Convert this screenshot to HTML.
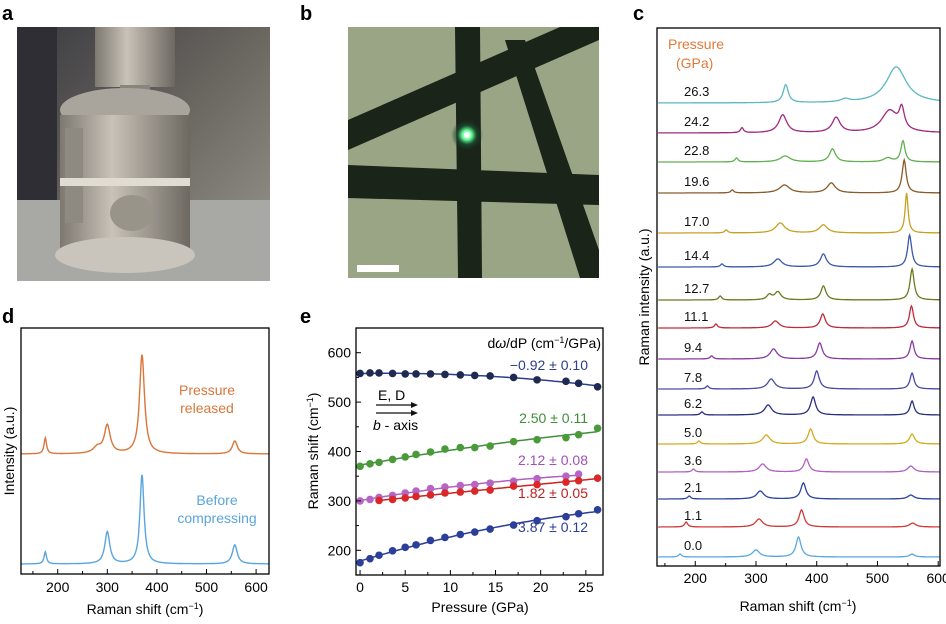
<!DOCTYPE html>
<html><head><meta charset="utf-8">
<style>
html,body{margin:0;padding:0;background:#fff;}
body{width:946px;height:619px;overflow:hidden;font-family:"Liberation Sans",sans-serif;}
svg text{font-family:"Liberation Sans",sans-serif;}
</style></head>
<body>
<svg id="fig" width="946" height="619" viewBox="0 0 946 619" xmlns="http://www.w3.org/2000/svg">
<defs>
<linearGradient id="gA" x1="0" y1="0" x2="1" y2="1">
<stop offset="0" stop-color="#3a3a40"/><stop offset="0.5" stop-color="#6a6660"/><stop offset="1" stop-color="#9a9890"/></linearGradient>
<linearGradient id="gCyl" x1="0" y1="0" x2="1" y2="0">
<stop offset="0" stop-color="#7d7870"/><stop offset="0.4" stop-color="#c8c2b8"/><stop offset="1" stop-color="#6d6860"/></linearGradient>
<radialGradient id="gLaser"><stop offset="0" stop-color="#ffffff"/><stop offset="0.3" stop-color="#66ff99"/><stop offset="0.6" stop-color="#1a5030" stop-opacity="0.8"/><stop offset="1" stop-color="#1a3020" stop-opacity="0"/></radialGradient>
</defs>

<text x="2" y="20" font-size="20" font-weight="bold">a</text>
<text x="300" y="20" font-size="20" font-weight="bold">b</text>
<text x="633" y="20" font-size="20" font-weight="bold">c</text>
<text x="2" y="323" font-size="20" font-weight="bold">d</text>
<text x="300" y="323" font-size="20" font-weight="bold">e</text>

<g>
<rect x="17" y="27" width="253" height="254" fill="url(#gA)"/>
<rect x="17" y="27" width="40" height="254" fill="#2e2e34"/>
<rect x="17" y="200" width="253" height="81" fill="#a8a8a4"/>
<rect x="95" y="27" width="80" height="60" fill="url(#gCyl)"/>
<rect x="120" y="85" width="30" height="40" fill="#8a857c"/>
<ellipse cx="125" cy="110" rx="65" ry="22" fill="#a9a49c"/>
<rect x="60" y="115" width="130" height="140" fill="url(#gCyl)"/>
<ellipse cx="125" cy="255" rx="70" ry="18" fill="#c9c5bd"/>
<rect x="65" y="128" width="18" height="95" fill="#8e8a82"/>
<ellipse cx="132" cy="213" rx="22" ry="18" fill="#99948a"/>
<rect x="60" y="178" width="130" height="8" fill="#e0dcd2"/>
</g>

<g>
<rect x="348" y="27" width="251" height="251" fill="#9aa586"/>
<polygon points="348,120 560,27 599,27 599,40 348,150" fill="#1a2418"/>
<polygon points="455,27 480,27 482,278 458,278" fill="#1a2418"/>
<polygon points="348,165 599,175 599,205 348,198" fill="#1a2418"/>
<polygon points="505,40 525,40 599,250 599,278 580,278" fill="#1a2418"/>
<circle cx="467" cy="135" r="16" fill="url(#gLaser)"/>
<circle cx="467" cy="135" r="3" fill="#fff"/>
<rect x="357" y="265" width="42" height="7" fill="#ffffff"/>
</g>

<g id="panelC"></g>
<g id="panelD"></g>
<g id="panelE"></g>
</svg>

<script>
const NS="http://www.w3.org/2000/svg";
function mk(parent,tag,attrs,txt){const e=document.createElementNS(NS,tag);for(const k in attrs)e.setAttribute(k,attrs[k]);if(txt!==undefined)e.textContent=txt;parent.appendChild(e);return e;}

// ===== Panel C data =====
const cPressures=["0.0","1.1","2.1","3.6","5.0","6.2","7.8","9.4","11.1","12.7","14.4","17.0","19.6","22.8","24.2","26.3"];
const cOffsets=[9,39,67,94,122,151,177,207,238,266,299,333,373,404,433,463];
const cColors=["#5aa8de","#d03a3a","#2a44a0","#b060c0","#d4aa20","#2a3080","#4a4aa8","#8a3aa0","#c02a3a","#6a7a20","#3a5aa8","#c8a020","#8a5a2a","#60b050","#a02880","#5ab8c0"];
const cPeakPos=[[175,300,370,557],[185,305,375,558],[190,307,378,555],[197,311,383,555],[206,317,390,557],[211,320,394,557],[220,325,400,557],[227,329,405,557],[234,332,410,556],[241,322,336,411,557],[244,336,411,553],[251,340,411,548],[261,347,424,544],[268,348,426,517,542],[277,344,432,520,540],[349,447,531]];
const cPeakAmp=[[3,7,20,3],[5,8,17,4],[3,8,16,4],[3,8,13,6],[3,9,15,10],[3,10,18,14],[3,10,18,16],[3,10,16,18],[4,7,14,22],[4,5,8,14,31],[3,8,13,32],[3,10,8,40],[3,8,10,33],[4,6,13,4,21],[5,18,15,22,20],[18,3,36]];
const cPeakWid=[[3,7,5,5],[3,7,5,6],[3,7,5,6],[3,7,5,6],[3,7,5,5],[3,7,5,4],[3,7,5,4],[3,7,5,4],[3,7,5,4],[3,5,6,5,4],[3,8,6,4],[3,9,8,3],[3,10,8,4],[3,10,6,8,4],[3,8,8,16,5],[5,8,20]];
const cXTicks=[200,300,400,500,600];

const C={x0:657,x1:940,y0:28,y1:566,dmin:137,dmax:603};
function cx(v){return C.x0+(v-C.dmin)/(C.dmax-C.dmin)*(C.x1-C.x0);}
function cy(v){return C.y1-v;}
(function(){
 const g=document.getElementById('panelC');
 cPressures.forEach((p,i)=>{
  let d="";
  for(let w=C.dmin+2;w<=C.dmax;w+=1){
   let I=0;
   cPeakPos[i].forEach((c,k)=>{const hw=cPeakWid[i][k];I+=cPeakAmp[i][k]*hw*hw/((w-c)*(w-c)+hw*hw);});
   d+=(d?"L":"M")+cx(w).toFixed(1)+","+cy(cOffsets[i]+I).toFixed(1);
  }
  const path=mk(g,'path',{d:d,fill:'none',stroke:cColors[i],'stroke-width':1.3});
  
  
  const t=mk(g,'text',{x:684,y:cy(cOffsets[i])-7,'font-size':13,fill:'#111'},p);
  
  
 });
 const box=mk(g,'rect',{x:C.x0,y:C.y0,width:C.x1-C.x0,height:C.y1-C.y0,fill:'none',stroke:'#000','stroke-width':1.3});
 
 
 cXTicks.forEach(v=>{
  mk(g,'line',{x1:cx(v),x2:cx(v),y1:C.y1,y2:C.y1-5,stroke:'#000'});
  mk(g,'line',{x1:cx(v-50),x2:cx(v-50),y1:C.y1,y2:C.y1-3,stroke:'#000'});
  const t=mk(g,'text',{x:cx(v),y:583,'font-size':14,'text-anchor':'middle'},String(v));
  
  
 });
 const xt=mk(g,'text',{x:798,y:611,'font-size':14,'text-anchor':'middle'});
 xt.innerHTML='Raman shift (cm<tspan baseline-shift="super" font-size="9">−1</tspan>)';
 
 
 const yt=mk(g,'text',{x:0,y:0,'font-size':14,'text-anchor':'middle',transform:'translate(649,297) rotate(-90)'},'Raman intensity (a.u.)');
 
 
 const l1=mk(g,'text',{x:668,y:49,'font-size':14,fill:'#e07a3a'},'Pressure');
 
 
 mk(g,'text',{x:676,y:68,'font-size':14,fill:'#e07a3a'},'(GPa)');
})();

// ===== Panel D data =====
const dSeriesNames=["Pressure released","Before compressing"];
const dOffsets=[120,10];
const dColors=["#d9763a","#5aa5dd"];
const dPeakPos=[[175,280,300,370,557],[175,300,370,557]];
const dPeakAmp=[[16,6,28,99,13],[12,32,89,19]];
const dPeakWid=[[3,10,7,6,6],[3,6,5,6]];
const dXTicks=[200,300,400,500,600];
const D={x0:21,x1:269,y0:328,y1:574,dmin:126,dmax:626};
function dx(v){return D.x0+(v-D.dmin)/(D.dmax-D.dmin)*(D.x1-D.x0);}
function dy(v){return D.y1-v;}
(function(){
 const g=document.getElementById('panelD');
 dSeriesNames.forEach((n,i)=>{
  let d="";
  for(let w=D.dmin+1;w<=D.dmax;w+=1){
   let I=0;
   dPeakPos[i].forEach((c,k)=>{const hw=dPeakWid[i][k];I+=dPeakAmp[i][k]*hw*hw/((w-c)*(w-c)+hw*hw);});
   d+=(d?"L":"M")+dx(w).toFixed(1)+","+dy(dOffsets[i]+I).toFixed(1);
  }
  const p=mk(g,'path',{d:d,fill:'none',stroke:dColors[i],'stroke-width':1.4});
  
  
 });
 const box=mk(g,'rect',{x:D.x0,y:D.y0,width:D.x1-D.x0,height:D.y1-D.y0,fill:'none',stroke:'#000','stroke-width':1.3});
 
 
 dXTicks.forEach(v=>{
  mk(g,'line',{x1:dx(v),x2:dx(v),y1:D.y1,y2:D.y1-5,stroke:'#000'});
  mk(g,'line',{x1:dx(v-50),x2:dx(v-50),y1:D.y1,y2:D.y1-3,stroke:'#000'});
  const t=mk(g,'text',{x:dx(v),y:592,'font-size':14,'text-anchor':'middle'},String(v));
  
  
 });
 const xt=mk(g,'text',{x:145,y:614,'font-size':14,'text-anchor':'middle'});
 xt.innerHTML='Raman shift (cm<tspan baseline-shift="super" font-size="9">−1</tspan>)';
 
 
 const yt=mk(g,'text',{x:0,y:0,'font-size':14,'text-anchor':'middle',transform:'translate(14,451) rotate(-90)'},'Intensity (a.u.)');
 
 
 const a=mk(g,'text',{x:207,y:395,'font-size':14,'text-anchor':'middle',fill:dColors[0]},'Pressure');
 
 
 mk(g,'text',{x:207,y:413,'font-size':14,'text-anchor':'middle',fill:dColors[0]},'released');
 const b=mk(g,'text',{x:217,y:505,'font-size':14,'text-anchor':'middle',fill:dColors[1]},'Before');
 
 
 mk(g,'text',{x:217,y:523,'font-size':14,'text-anchor':'middle',fill:dColors[1]},'compressing');
})();

// ===== Panel E data =====
const ePressure=[0,1.1,2.1,3.6,5.0,6.2,7.8,9.4,11.1,12.7,14.4,17.0,19.6,22.8,24.2,26.3];
const eMode1=[558,559,559,558,557,557,557,556,555,554,553,550,545,542,538,531];
const eMode2=[370,375,378,384,389,394,399,405,408,408,411,420,424,428,434,447];
const eMode3=[300,303,307,311,316,320,325,328,331,333,336,340,345,350,354,null];
const eMode4=[null,null,301,303,306,309,312,316,318,320,322,330,333,338,341,346];
const eMode5=[175,183,190,199,206,211,220,226,232,237,243,251,260,268,274,282];
const eSlopes=["−0.92 ± 0.10","2.50 ± 0.11","2.12 ± 0.08","1.82 ± 0.05","3.87 ± 0.12"];
const eXTicks=[0,5,10,15,20,25];
const eYTicks=[200,300,400,500,600];
const E={x0:356,x1:603,y0:328,y1:575,pmin:-0.45,pmax:26.9,wmin:150,wmax:650};
function ex(v){return E.x0+(v-E.pmin)/(E.pmax-E.pmin)*(E.x1-E.x0);}
function ey(v){return E.y1-(v-E.wmin)/(E.wmax-E.wmin)*(E.y1-E.y0);}
function quadFit(xs,ys){
 let S=[0,0,0,0,0],T=[0,0,0];
 xs.forEach((x,i)=>{const y=ys[i];for(let k=0;k<5;k++)S[k]+=Math.pow(x,k);for(let k=0;k<3;k++)T[k]+=y*Math.pow(x,k);});
 const M=[[S[0],S[1],S[2],T[0]],[S[1],S[2],S[3],T[1]],[S[2],S[3],S[4],T[2]]];
 for(let i=0;i<3;i++){for(let j=i+1;j<3;j++){const f=M[j][i]/M[i][i];for(let k=i;k<4;k++)M[j][k]-=f*M[i][k];}}
 const c=[0,0,0];for(let i=2;i>=0;i--){let s=M[i][3];for(let k=i+1;k<3;k++)s-=M[i][k]*c[k];c[i]=s/M[i][i];}
 return c;
}
(function(){
 const g=document.getElementById('panelE');
 const series=[eMode1,eMode2,eMode3,eMode4,eMode5];
 const lineCol=["#2c3e8c","#3f8f3a","#b060c0","#d02020","#2a3e9a"];
 const dotCol=["#1f2a50","#4a9a3a","#b565c5","#d82828","#2a3e9a"];
 const labY=[370,423,465,498,532];
 const labCol=["#2c3e8c","#3f8f3a","#a050b8","#c02020","#2a3e9a"];
 const names=["mode-560","mode-370","mode-300-upper","mode-300-lower","mode-175"];
 series.forEach((s,i)=>{
  const xs=[],ys=[];
  s.forEach((v,k)=>{if(v!==null){xs.push(ePressure[k]);ys.push(v);}});
  const c=quadFit(xs,ys);
  let d="";
  for(let p=xs[0];p<=xs[xs.length-1]+0.01;p+=0.25){d+=(d?"L":"M")+ex(p).toFixed(1)+","+ey(c[0]+c[1]*p+c[2]*p*p).toFixed(1);}
  const ln=mk(g,'path',{d:d,fill:'none',stroke:lineCol[i],'stroke-width':1.5});
  
  
  xs.forEach((x,k)=>{
   const pt=mk(g,'circle',{cx:ex(x),cy:ey(ys[k]),r:3.8,fill:dotCol[i]});
   
   
  });
  const t=mk(g,'text',{x:588,y:labY[i],'font-size':14,'text-anchor':'end',fill:labCol[i]},eSlopes[i]);
  
  
 });
 const box=mk(g,'rect',{x:E.x0,y:E.y0,width:E.x1-E.x0,height:E.y1-E.y0,fill:'none',stroke:'#000','stroke-width':1.3});
 
 
 eXTicks.forEach(v=>{
  mk(g,'line',{x1:ex(v),x2:ex(v),y1:E.y1,y2:E.y1-5,stroke:'#000'});
  if(v+2.5<E.pmax)mk(g,'line',{x1:ex(v+2.5),x2:ex(v+2.5),y1:E.y1,y2:E.y1-3,stroke:'#000'});
  const t=mk(g,'text',{x:ex(v),y:592,'font-size':14,'text-anchor':'middle'},String(v));
  
  
 });
 eYTicks.forEach(v=>{
  mk(g,'line',{x1:E.x0,x2:E.x0+5,y1:ey(v),y2:ey(v),stroke:'#000'});
  mk(g,'line',{x1:E.x0,x2:E.x0+3,y1:ey(v+50),y2:ey(v+50),stroke:'#000'});
  const t=mk(g,'text',{x:E.x0-5,y:ey(v)+5,'font-size':14,'text-anchor':'end'},String(v));
  
  
 });
 const xt=mk(g,'text',{x:480,y:612,'font-size':14,'text-anchor':'middle'},'Pressure (GPa)');
 
 
 const yt=mk(g,'text',{x:0,y:0,'font-size':14,'text-anchor':'middle',transform:'translate(318,451) rotate(-90)'});
 yt.innerHTML='Raman shift (cm<tspan baseline-shift="super" font-size="9">−1</tspan>)';
 
 
 const hd=mk(g,'text',{x:601,y:348,'font-size':14,'text-anchor':'end'});
 hd.innerHTML='d<tspan font-style="italic">ω</tspan>/dP (cm<tspan baseline-shift="super" font-size="9">−1</tspan>/GPa)';
 
 
 const ed=mk(g,'text',{x:378,y:400,'font-size':14},'E, D');
 
 
 [405,413].forEach(y=>{
  mk(g,'line',{x1:376,x2:414,y1:y,y2:y,stroke:'#111','stroke-width':1.3});
  mk(g,'polygon',{points:`418,${y} 411,${y-3} 411,${y+3}`,fill:'#111'});
 });
 const ba=mk(g,'text',{x:373,y:430,'font-size':14});
 ba.innerHTML='<tspan font-style="italic">b</tspan> - axis';
 
 
})();
</script>
</body></html>
